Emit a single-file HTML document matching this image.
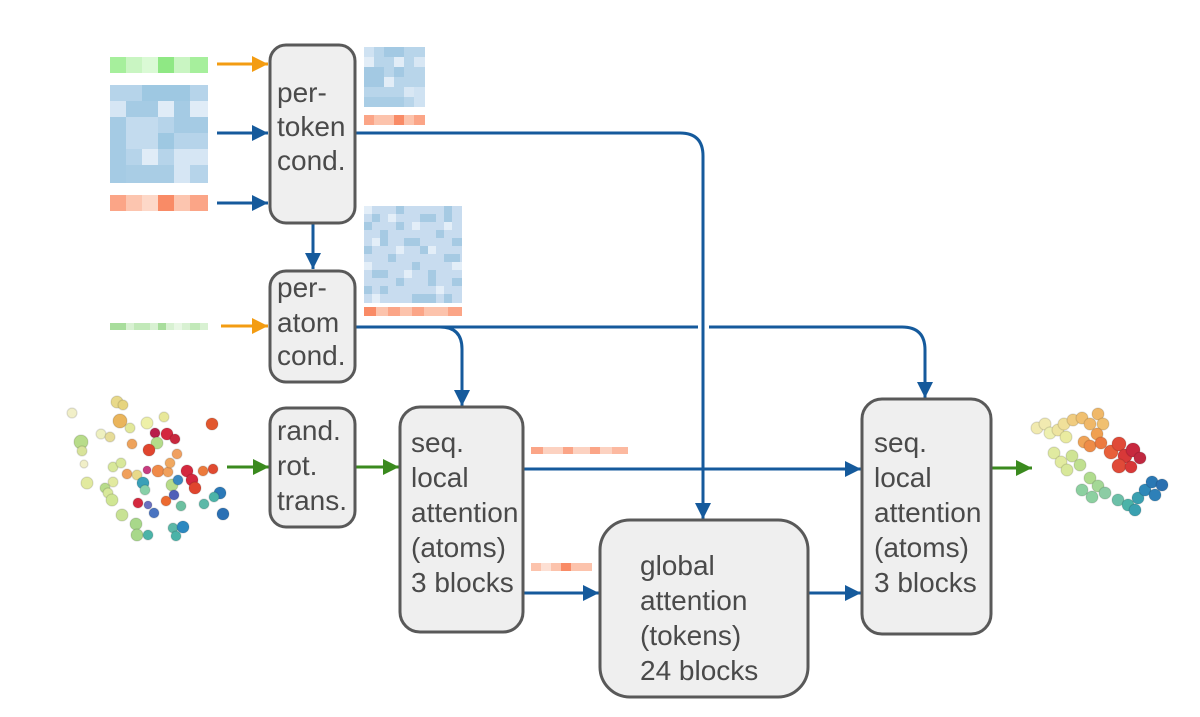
<!DOCTYPE html>
<html><head><meta charset="utf-8"><style>
html,body{margin:0;padding:0;background:#fff;}
svg{display:block;}
text{font-family:"Liberation Sans",sans-serif;font-size:28px;fill:#4a4a4a;}
</style></head><body>
<svg width="1200" height="717" viewBox="0 0 1200 717" xmlns="http://www.w3.org/2000/svg">
<defs>
<marker id="abb" viewBox="0 0 10 10" markerWidth="19" markerHeight="16" refX="10" refY="5" orient="auto" markerUnits="userSpaceOnUse"><path d="M0,0 L10,5 L0,10 Z" fill="#155a9c"/></marker>
<marker id="ao" viewBox="0 0 10 10" markerWidth="19" markerHeight="16" refX="10" refY="5" orient="auto" markerUnits="userSpaceOnUse"><path d="M0,0 L10,5 L0,10 Z" fill="#f39c12"/></marker>
<marker id="ag" viewBox="0 0 10 10" markerWidth="19" markerHeight="16" refX="10" refY="5" orient="auto" markerUnits="userSpaceOnUse"><path d="M0,0 L10,5 L0,10 Z" fill="#3a8a1e"/></marker>
</defs>

<!-- green bar -->
<g>
<rect x="110" y="57" width="98" height="16" fill="#c9f5c2"/>
<rect x="110" y="57" width="16" height="16" fill="#a6ef9c"/>
<rect x="142" y="57" width="16" height="16" fill="#dafad5"/>
<rect x="158" y="57" width="16" height="16" fill="#8fe884"/>
<rect x="190" y="57" width="18" height="16" fill="#a6ef9c"/>
</g>
<!-- blue heatmap 6x6 -->
<g>
<rect x="110" y="85" width="98" height="98" fill="#b6d4ea"/>
<rect x="142" y="85" width="48" height="16" fill="#9ec8e2"/>
<rect x="110" y="101" width="16" height="16" fill="#d6e6f4"/>
<rect x="126" y="101" width="32" height="16" fill="#a5cbe4"/>
<rect x="158" y="101" width="16" height="16" fill="#e0ecf7"/>
<rect x="174" y="101" width="16" height="16" fill="#a5cbe4"/>
<rect x="190" y="101" width="18" height="16" fill="#e0ecf7"/>
<rect x="110" y="117" width="16" height="32" fill="#a5cbe4"/>
<rect x="126" y="117" width="32" height="32" fill="#c3dbee"/>
<rect x="158" y="133" width="16" height="16" fill="#9ec8e2"/>
<rect x="174" y="117" width="34" height="16" fill="#a5cbe4"/>
<rect x="110" y="149" width="16" height="34" fill="#a5cbe4"/>
<rect x="142" y="149" width="16" height="16" fill="#e0ecf7"/>
<rect x="174" y="149" width="34" height="16" fill="#d6e6f4"/>
<rect x="126" y="165" width="48" height="18" fill="#a9cde5"/>
<rect x="174" y="165" width="16" height="18" fill="#d6e6f4"/>
</g>
<!-- orange bar -->
<g>
<rect x="110" y="195" width="98" height="16" fill="#fcc5af"/>
<rect x="110" y="195" width="16" height="16" fill="#fba587"/>
<rect x="142" y="195" width="16" height="16" fill="#fdd8c8"/>
<rect x="158" y="195" width="16" height="16" fill="#f98b66"/>
<rect x="190" y="195" width="18" height="16" fill="#fba587"/>
</g>
<!-- small heatmap -->
<g>
<rect x="364" y="47" width="61" height="60" fill="#b8d5ea"/>
<rect x="364" y="47" width="10" height="10" fill="#cfe2f2"/>
<rect x="384" y="47" width="20" height="10" fill="#a3c9e3"/>
<rect x="364" y="57" width="10" height="10" fill="#e2edf7"/>
<rect x="394" y="57" width="10" height="10" fill="#e2edf7"/>
<rect x="414" y="57" width="11" height="10" fill="#d8e7f4"/>
<rect x="364" y="67" width="20" height="20" fill="#a3c9e3"/>
<rect x="394" y="67" width="10" height="10" fill="#a3c9e3"/>
<rect x="384" y="77" width="10" height="10" fill="#e2edf7"/>
<rect x="404" y="87" width="10" height="10" fill="#d8e7f4"/>
<rect x="364" y="97" width="40" height="10" fill="#a9cde5"/>
<rect x="414" y="87" width="11" height="20" fill="#cfe2f2"/>
<rect x="364" y="115" width="61" height="10" fill="#fcc3ac"/>
<rect x="364" y="115" width="10" height="10" fill="#fba587"/>
<rect x="394" y="115" width="10" height="10" fill="#f98b66"/>
<rect x="414" y="115" width="11" height="10" fill="#fba587"/>
</g>
<!-- big heatmap -->
<g>
<rect x="364" y="206" width="98" height="97" fill="#c8dcef"/>
<g fill="#a6cae3">
<rect x="372" y="214" width="8" height="8"/><rect x="396" y="206" width="8" height="8"/><rect x="420" y="214" width="16" height="8"/><rect x="444" y="206" width="8" height="16"/>
<rect x="380" y="230" width="8" height="16"/><rect x="404" y="238" width="16" height="8"/><rect x="436" y="230" width="8" height="8"/><rect x="364" y="246" width="8" height="8"/>
<rect x="388" y="254" width="8" height="8"/><rect x="412" y="262" width="8" height="8"/><rect x="444" y="254" width="16" height="8"/><rect x="372" y="270" width="16" height="8"/>
<rect x="428" y="270" width="8" height="16"/><rect x="396" y="278" width="8" height="8"/><rect x="452" y="278" width="10" height="8"/><rect x="380" y="286" width="8" height="8"/>
<rect x="412" y="294" width="24" height="9"/><rect x="364" y="222" width="8" height="8"/><rect x="452" y="238" width="10" height="8"/>
<rect x="396" y="222" width="8" height="8"/><rect x="420" y="246" width="8" height="8"/><rect x="364" y="286" width="8" height="8"/><rect x="444" y="294" width="8" height="9"/>
</g>
<g fill="#e3eef8">
<rect x="364" y="206" width="8" height="8"/><rect x="388" y="214" width="8" height="8"/><rect x="412" y="222" width="8" height="8"/><rect x="444" y="222" width="8" height="8"/>
<rect x="372" y="238" width="8" height="8"/><rect x="396" y="246" width="8" height="8"/><rect x="428" y="246" width="8" height="8"/><rect x="452" y="262" width="10" height="8"/>
<rect x="364" y="262" width="8" height="8"/><rect x="404" y="270" width="8" height="8"/><rect x="436" y="286" width="8" height="8"/><rect x="372" y="294" width="8" height="9"/>
</g>
<rect x="364" y="307" width="98" height="9" fill="#fcc3ac"/>
<rect x="364" y="307" width="12" height="9" fill="#f98b66"/><rect x="388" y="307" width="12" height="9" fill="#fba587"/><rect x="412" y="307" width="12" height="9" fill="#fba587"/><rect x="448" y="307" width="14" height="9" fill="#fba587"/>
</g>
<!-- light green bar -->
<g>
<rect x="110" y="323" width="98" height="7" fill="#d8f1d2"/>
<rect x="110" y="323" width="16" height="7" fill="#a8dd9c"/>
<rect x="134" y="323" width="16" height="7" fill="#c2e9b9"/>
<rect x="158" y="323" width="8" height="7" fill="#a8dd9c"/>
<rect x="174" y="323" width="8" height="7" fill="#e8f7e4"/>
<rect x="190" y="323" width="10" height="7" fill="#c2e9b9"/>
</g>
<!-- mid orange bars -->
<g>
<rect x="531" y="447" width="97" height="7" fill="#fcd2c1"/>
<rect x="531" y="447" width="12" height="7" fill="#fba587"/><rect x="563" y="447" width="10" height="7" fill="#fba587"/><rect x="590" y="447" width="10" height="7" fill="#fba587"/><rect x="612" y="447" width="16" height="7" fill="#fcb9a0"/>
<rect x="531" y="563" width="61" height="8" fill="#fcc3ac"/>
<rect x="561" y="563" width="10" height="8" fill="#f98b66"/><rect x="541" y="563" width="10" height="8" fill="#fde0d4"/>
</g>

<!-- connectors -->
<g fill="none" stroke-width="3">
<line x1="217" y1="64" x2="268" y2="64" stroke="#f39c12" marker-end="url(#ao)"/>
<line x1="217" y1="133" x2="268" y2="133" stroke="#155a9c" marker-end="url(#abb)"/>
<line x1="217" y1="203" x2="268" y2="203" stroke="#155a9c" marker-end="url(#abb)"/>
<line x1="221" y1="326" x2="268" y2="326" stroke="#f39c12" marker-end="url(#ao)"/>
<line x1="313" y1="223" x2="313" y2="269" stroke="#155a9c" marker-end="url(#abb)"/>
<path d="M355,133 H680 Q703,133 703,156 V519" stroke="#155a9c" marker-end="url(#abb)"/>
<path d="M355,327 H440 Q462,327 462,349 V406" stroke="#155a9c" marker-end="url(#abb)"/>
<path d="M440,327 H698 M709,327 H902 Q925,327 925,350 V398" stroke="#155a9c" marker-end="url(#abb)"/>
<line x1="523" y1="469" x2="861" y2="469" stroke="#155a9c" marker-end="url(#abb)"/>
<line x1="523" y1="593" x2="599" y2="593" stroke="#155a9c" marker-end="url(#abb)"/>
<line x1="808" y1="593" x2="861" y2="593" stroke="#155a9c" marker-end="url(#abb)"/>
<line x1="227" y1="467" x2="269" y2="467" stroke="#3a8a1e" marker-end="url(#ag)"/>
<line x1="355" y1="467" x2="399" y2="467" stroke="#3a8a1e" marker-end="url(#ag)"/>
<line x1="992" y1="468" x2="1032" y2="468" stroke="#3a8a1e" marker-end="url(#ag)"/>
</g>

<!-- boxes -->
<g fill="#efefef" stroke="#595959" stroke-width="3">
<rect x="270" y="45" width="85" height="178" rx="16"/>
<rect x="270" y="271" width="85" height="111" rx="16"/>
<rect x="270" y="408" width="85" height="119" rx="16"/>
<rect x="400" y="407" width="123" height="225" rx="20"/>
<rect x="600" y="520" width="208" height="177" rx="30"/>
<rect x="862" y="399" width="129" height="235" rx="20"/>
</g>
<text x="277" y="102">per-</text>
<text x="277" y="136">token</text>
<text x="277" y="170">cond.</text>
<text x="277" y="297">per-</text>
<text x="277" y="332">atom</text>
<text x="277" y="365">cond.</text>
<text x="277" y="440">rand.</text>
<text x="277" y="475">rot.</text>
<text x="277" y="510">trans.</text>
<text x="411" y="452">seq.</text>
<text x="411" y="487">local</text>
<text x="411" y="522">attention</text>
<text x="411" y="557">(atoms)</text>
<text x="411" y="592">3 blocks</text>
<text x="640" y="575">global</text>
<text x="640" y="610">attention</text>
<text x="640" y="645">(tokens)</text>
<text x="640" y="680">24 blocks</text>
<text x="874" y="452">seq.</text>
<text x="874" y="487">local</text>
<text x="874" y="522">attention</text>
<text x="874" y="557">(atoms)</text>
<text x="874" y="592">3 blocks</text>

<!-- left scattered spheres -->
<g stroke="#000" stroke-opacity="0.12" stroke-width="1.2">
<circle cx="117" cy="402" r="6" fill="#e8d98a"/><circle cx="123" cy="405" r="5" fill="#e6d47e"/>
<circle cx="72" cy="413" r="5" fill="#f1efc8"/><circle cx="120" cy="421" r="7" fill="#eab55c"/>
<circle cx="130" cy="428" r="5" fill="#e2e89a"/><circle cx="147" cy="423" r="6" fill="#eef0a8"/>
<circle cx="164" cy="417" r="5" fill="#e8e89a"/><circle cx="212" cy="424" r="6" fill="#e2572e"/>
<circle cx="81" cy="442" r="7" fill="#b8dc8a"/><circle cx="82" cy="451" r="5" fill="#d8e39a"/>
<circle cx="101" cy="434" r="5" fill="#eef0c0"/><circle cx="110" cy="437" r="5" fill="#e6dc98"/>
<circle cx="132" cy="444" r="5" fill="#eea35c"/><circle cx="155" cy="433" r="5" fill="#b81e4a"/>
<circle cx="167" cy="434" r="6" fill="#d4283e"/><circle cx="175" cy="439" r="5" fill="#c8283e"/>
<circle cx="157" cy="443" r="6" fill="#b4dc8a"/><circle cx="149" cy="450" r="6" fill="#e0452e"/>
<circle cx="177" cy="454" r="5" fill="#f0a060"/><circle cx="84" cy="464" r="4" fill="#f1efc8"/>
<circle cx="113" cy="467" r="5" fill="#d8e89a"/><circle cx="121" cy="463" r="5" fill="#d8e89a"/>
<circle cx="127" cy="474" r="5" fill="#f0a05c"/><circle cx="137" cy="475" r="5" fill="#e8d98a"/>
<circle cx="147" cy="470" r="4" fill="#c83c80"/><circle cx="158" cy="471" r="6" fill="#f08a48"/>
<circle cx="168" cy="472" r="5" fill="#f0a05c"/><circle cx="170" cy="463" r="5" fill="#f0a860"/>
<circle cx="187" cy="471" r="6" fill="#d4283e"/><circle cx="203" cy="471" r="5" fill="#ec7a3c"/>
<circle cx="213" cy="469" r="5" fill="#e04a30"/><circle cx="87" cy="483" r="6" fill="#e2eaa0"/>
<circle cx="113" cy="482" r="5" fill="#e2eaa0"/><circle cx="105" cy="488" r="5" fill="#b8dc8a"/>
<circle cx="108" cy="493" r="5" fill="#d8e89a"/><circle cx="112" cy="500" r="6" fill="#d0e694"/>
<circle cx="143" cy="483" r="6" fill="#3aa0b8"/><circle cx="145" cy="490" r="5" fill="#88d0a8"/>
<circle cx="172" cy="485" r="6" fill="#b8dc8a"/><circle cx="178" cy="480" r="5" fill="#3a8ac0"/>
<circle cx="192" cy="480" r="6" fill="#d4283e"/><circle cx="195" cy="488" r="6" fill="#e0452e"/>
<circle cx="220" cy="493" r="6" fill="#2b79b8"/><circle cx="214" cy="497" r="5" fill="#4bb3a8"/>
<circle cx="138" cy="503" r="5" fill="#d4283e"/><circle cx="148" cy="505" r="4" fill="#6a70c0"/>
<circle cx="154" cy="513" r="5" fill="#4a74c0"/><circle cx="166" cy="501" r="5" fill="#ec6a30"/>
<circle cx="174" cy="495" r="5" fill="#5060b8"/><circle cx="181" cy="506" r="5" fill="#6cc0a0"/>
<circle cx="204" cy="504" r="5" fill="#5cb8a8"/><circle cx="223" cy="514" r="6" fill="#2a70b4"/>
<circle cx="122" cy="515" r="6" fill="#c8e294"/><circle cx="136" cy="524" r="6" fill="#a8d88a"/>
<circle cx="137" cy="535" r="6" fill="#a8d88a"/><circle cx="148" cy="535" r="5" fill="#4bb3a8"/>
<circle cx="173" cy="528" r="5" fill="#5cb8a8"/><circle cx="183" cy="527" r="6" fill="#2b88c0"/>
<circle cx="176" cy="536" r="5" fill="#4bb3a8"/>
</g>
<!-- right folded chain -->
<g stroke="#000" stroke-opacity="0.12" stroke-width="1.2">
<circle cx="1037" cy="428" r="6" fill="#f1eab0"/><circle cx="1045" cy="424" r="6" fill="#f1eab0"/><circle cx="1050" cy="433" r="6" fill="#eef0b0"/>
<circle cx="1058" cy="430" r="6" fill="#eee4a0"/><circle cx="1064" cy="424" r="6" fill="#f0e09a"/><circle cx="1066" cy="437" r="6" fill="#eaeba0"/>
<circle cx="1073" cy="420" r="6" fill="#f0cc80"/><circle cx="1082" cy="418" r="6" fill="#f0c070"/><circle cx="1090" cy="424" r="6" fill="#f0b868"/>
<circle cx="1098" cy="414" r="6" fill="#f0b868"/><circle cx="1103" cy="424" r="6" fill="#f0c070"/><circle cx="1097" cy="434" r="6" fill="#f0a050"/>
<circle cx="1084" cy="442" r="6" fill="#f0a458"/><circle cx="1090" cy="446" r="6" fill="#ee8c48"/><circle cx="1101" cy="443" r="6" fill="#ec7a40"/>
<circle cx="1111" cy="452" r="7" fill="#e8603a"/><circle cx="1119" cy="444" r="7" fill="#e04a38"/><circle cx="1125" cy="456" r="7" fill="#d83838"/>
<circle cx="1133" cy="450" r="7" fill="#c8283e"/><circle cx="1140" cy="458" r="6" fill="#c02840"/><circle cx="1119" cy="466" r="7" fill="#e04a38"/>
<circle cx="1131" cy="467" r="6" fill="#d83838"/><circle cx="1054" cy="453" r="6" fill="#e0eaa0"/><circle cx="1061" cy="462" r="6" fill="#e2eba0"/>
<circle cx="1072" cy="456" r="6" fill="#cfe494"/><circle cx="1080" cy="465" r="6" fill="#c0e090"/><circle cx="1067" cy="470" r="6" fill="#d8e89a"/>
<circle cx="1090" cy="478" r="6" fill="#b0dc8e"/><circle cx="1098" cy="486" r="6" fill="#a4d896"/><circle cx="1082" cy="490" r="6" fill="#8cd0a0"/>
<circle cx="1092" cy="497" r="6" fill="#8cd0a0"/><circle cx="1105" cy="493" r="6" fill="#8ccca4"/><circle cx="1118" cy="500" r="6" fill="#6cc0a8"/>
<circle cx="1128" cy="505" r="6" fill="#4bb3a8"/><circle cx="1138" cy="498" r="6" fill="#3aa0b0"/><circle cx="1145" cy="490" r="6" fill="#2e88b8"/>
<circle cx="1152" cy="482" r="6" fill="#2a78b4"/><circle cx="1162" cy="485" r="6" fill="#2a70b0"/><circle cx="1155" cy="495" r="6" fill="#2e80b8"/>
<circle cx="1135" cy="510" r="6" fill="#3aa0b0"/>
</g>
</svg>
</body></html>
